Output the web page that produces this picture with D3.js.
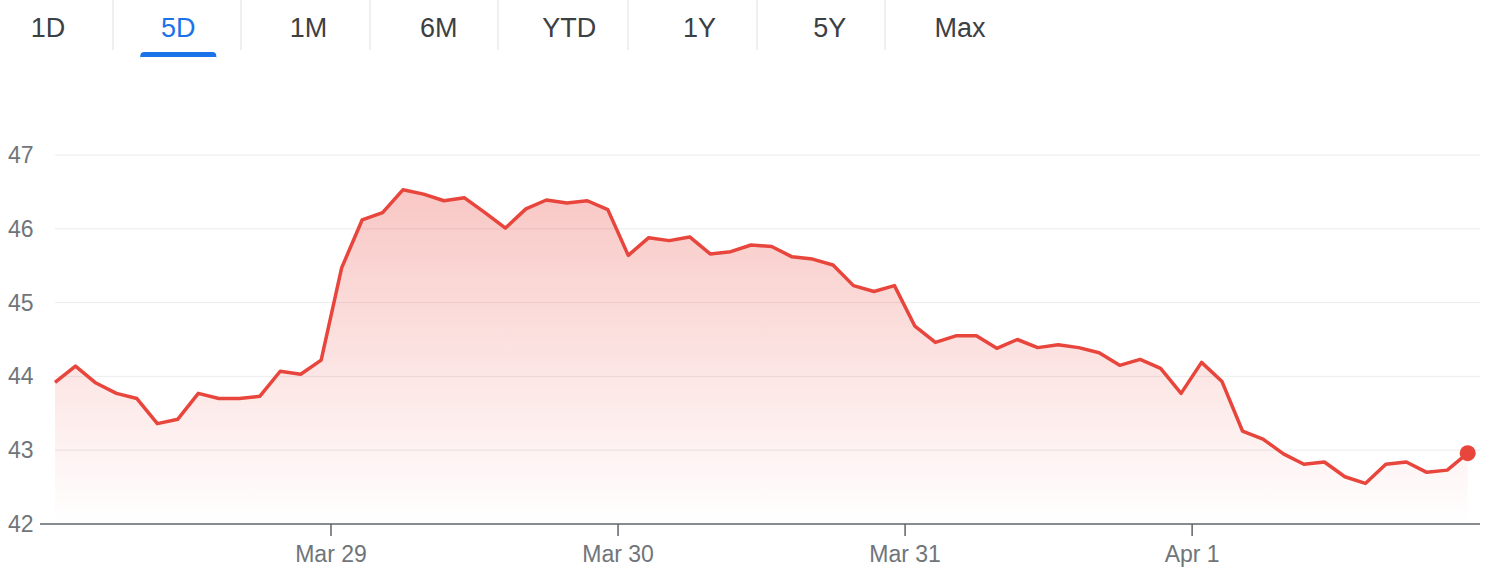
<!DOCTYPE html>
<html><head><meta charset="utf-8">
<script src="https://cdn.jsdelivr.net/npm/d3@7"></script>
<style>body{margin:0;background:#fff;font-family:Arial,"Liberation Sans",sans-serif}</style>
</head><body><svg id="chart"></svg>
<script>
const tabs = ['1D', '5D', '1M', '6M', 'YTD', '1Y', '5Y', 'Max'];
const activeTab = '5D';
const prices = [43.92, 44.14, 43.91, 43.77, 43.70, 43.36, 43.42, 43.77, 43.70, 43.70, 43.73, 44.07, 44.03, 44.22,
  45.47, 46.12, 46.22, 46.53, 46.47, 46.38, 46.42, 46.22, 46.01, 46.27, 46.39, 46.35, 46.38, 46.26,
  45.64, 45.88, 45.84, 45.89, 45.66, 45.69, 45.78, 45.76, 45.62, 45.59, 45.51, 45.23, 45.15, 45.23,
  44.68, 44.46, 44.55, 44.55, 44.38, 44.50, 44.39, 44.43, 44.39, 44.32, 44.15, 44.23, 44.11, 43.77,
  44.19, 43.93, 43.26, 43.15, 42.95, 42.81, 42.84, 42.64, 42.55, 42.81, 42.84, 42.70, 42.73, 42.96];
const dayLabels = ['Mar 29', 'Mar 30', 'Mar 31', 'Apr 1'];
const dayStartIndex = [13.48, 27.5, 41.52, 55.54];
const yTicks = [42, 43, 44, 45, 46, 47];

const width = 1500, height = 584;
const svg = d3.select('#chart').attr('width', width).attr('height', height);

// tab bar
const tabX = d3.scalePoint().domain(tabs).range([48, 960]);
const sepX = [113, 241, 370, 498, 628, 757, 885];
svg.append('g').selectAll('line').data(sepX).join('line')
  .attr('x1', d => d).attr('x2', d => d).attr('y1', 0).attr('y2', 50)
  .attr('stroke', '#e0e0e0');
svg.append('g').selectAll('text').data(tabs).join('text')
  .attr('x', d => tabX(d)).attr('y', 37).attr('text-anchor', 'middle')
  .attr('font-size', 27)
  .attr('fill', d => d === activeTab ? '#1a73e8' : '#3c4043')
  .text(d => d);
svg.append('rect').attr('x', tabX(activeTab) - 38).attr('y', 52).attr('width', 76)
  .attr('height', 9).attr('rx', 4).attr('fill', '#1a73e8');
svg.append('rect').attr('x', tabX(activeTab) - 38).attr('y', 57).attr('width', 76)
  .attr('height', 5).attr('fill', '#fff');

const marginLeft = 55, marginRight = 20, plotTop = 155, plotBottom = 524;
const x = d3.scaleLinear().domain([0, 69.6]).range([marginLeft, width - marginRight]);
const y = d3.scaleLinear().domain([42, 47]).range([plotBottom, plotTop]);

// grid
svg.append('g').selectAll('line').data(yTicks.slice(1)).join('line')
  .attr('x1', marginLeft).attr('x2', width - marginRight)
  .attr('y1', d => y(d)).attr('y2', d => y(d)).attr('stroke', '#ececec');
svg.append('g').selectAll('text').data(yTicks).join('text')
  .attr('x', 8).attr('y', d => y(d) + 8).attr('font-size', 23).attr('fill', '#70757a')
  .text(d => d);

// gradient fill
const grad = svg.append('defs').append('linearGradient').attr('id', 'g')
  .attr('x1', 0).attr('x2', 0).attr('y1', 0).attr('y2', 1);
grad.append('stop').attr('offset', '0%').attr('stop-color', '#e8453c').attr('stop-opacity', 0.3);
grad.append('stop').attr('offset', '100%').attr('stop-color', '#e8453c').attr('stop-opacity', 0);
const area = d3.area().x((d, i) => x(i)).y0(plotBottom).y1(d => y(d));
svg.append('path').datum(prices).attr('d', area).attr('fill', 'url(#g)');
const line = d3.line().x((d, i) => x(i)).y(d => y(d));
svg.append('path').datum(prices).attr('d', line).attr('fill', 'none')
  .attr('stroke', '#e8453c').attr('stroke-width', 3.5).attr('stroke-linejoin', 'round');
svg.append('circle').attr('cx', x(prices.length - 1)).attr('cy', y(prices[prices.length - 1]))
  .attr('r', 8).attr('fill', '#e8453c');

// x axis
svg.append('line').attr('x1', 40).attr('x2', width - marginRight).attr('y1', plotBottom).attr('y2', plotBottom)
  .attr('stroke', '#5f6368').attr('stroke-width', 1.5);
const xa = svg.append('g').selectAll('g').data(dayStartIndex).join('g')
  .attr('transform', d => `translate(${x(d)},${plotBottom})`);
xa.append('line').attr('y2', 12).attr('stroke', '#5f6368').attr('stroke-width', 1.5);
xa.append('text').attr('y', 38).attr('text-anchor', 'middle').attr('font-size', 23)
  .attr('fill', '#70757a').text((d, i) => dayLabels[i]);
</script></body></html>
